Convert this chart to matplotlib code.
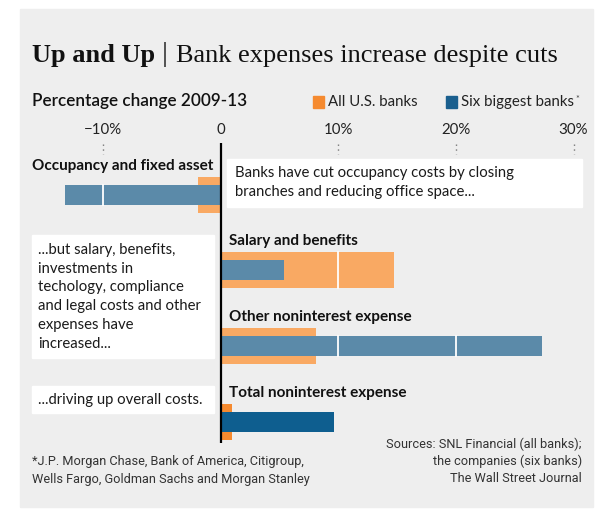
import matplotlib.pyplot as plt
from matplotlib.patches import Rectangle

categories = ['Occupancy and fixed asset', 'Salary and benefits',
              'Other noninterest expense', 'Total noninterest expense']
all_banks = [-1.9, 14.7, 8.1, 1.0]
six_biggest = [-13.2, 5.4, 27.3, 9.6]
ticks = [-10, 0, 10, 20, 30]
tick_labels = ['\u221210%', '0', '10%', '20%', '30%']

notes = [
    ['Banks have cut occupancy costs by closing',
     'branches and reducing office space...'],
    ['...but salary, benefits,', 'investments in', 'techology, compliance',
     'and legal costs and other', 'expenses have', 'increased...'],
    ['...driving up overall costs.'],
]

orange = ['#f9a963', '#f9a963', '#f9a963', '#f58a2f']
blue = ['#5b8aa9', '#5b8aa9', '#5b8aa9', '#0e5e8f']

W, H = 606, 517
BODY = ['Lato', 'DejaVu Sans']
NARROW = ['Roboto', 'DejaVu Sans']
SERIF = ['Liberation Serif', 'DejaVu Serif']

fig = plt.figure(figsize=(W / 100, H / 100), dpi=100)


def fx(p):
    return p / W


def fy(p):
    return 1 - p / H


def box(x0, y0, x1, y1, color, z=-1):
    fig.patches.append(Rectangle((fx(x0), fy(y1)), (x1 - x0) / W, (y1 - y0) / H,
                                 transform=fig.transFigure, color=color, zorder=z))


# grey panel
box(20, 9, 593, 507, '#eeeeee', z=-2)

# title
fig.text(fx(32), fy(62), 'Up and Up', family=SERIF, weight='bold', size=19,
         va='baseline', color='#111111')
fig.text(fx(161), fy(61), '|', family=['DejaVu Sans'], size=17, va='baseline',
         color='#555555')
fig.text(fx(176), fy(62), 'Bank expenses increase despite cuts', family=SERIF,
         size=19, va='baseline', color='#111111')

fig.text(fx(32), fy(106), 'Percentage change 2009-13', family=BODY, size=12.3,
         weight='semibold', va='baseline', color='#111111')

# legend
box(313, 96.5, 324, 107.5, '#f58a2f')
fig.text(fx(328), fy(106), 'All U.S. banks', family=BODY, size=10.8,
         va='baseline', color='#222222')
box(446, 96.5, 457, 107.5, '#1a5f8e')
fig.text(fx(461), fy(106), 'Six biggest banks', family=BODY, size=10.8,
         va='baseline', color='#222222')
fig.text(fx(575), fy(102), '*', family=BODY, size=6.5, va='baseline', color='#444444')

# annotation boxes
box(227, 159, 582, 207, 'white')
box(32, 235, 214, 358, 'white')
box(32, 386, 214, 413, 'white')
for xs, y0, lines in [(235, 173, notes[0]), (38, 250, notes[1]), (38, 400, notes[2])]:
    for i, line in enumerate(lines):
        fig.text(fx(xs), fy(y0 + i * 18.7), line, family=BODY, size=10.7,
                 va='center', color='#1a1a1a')

# bar area
x0px, step = 220.7, 11.76      # pixel of 0 and pixels per 1 %
c0, gap = 194.5, 75.8          # pixel of first bar centre and row spacing
top, bottom = 143, 443
ax = fig.add_axes([fx(20), fy(bottom), (593 - 20) / W, (bottom - top) / H])
ax.set_xlim((20 - x0px) / step, (593 - x0px) / step)
ymin, ymax = (top - c0) / gap, (bottom - c0) / gap
ax.set_ylim(ymax, ymin)
ax.axis('off')
ax.patch.set_alpha(0)

pos = list(range(len(categories)))
h_or, h_bl = 36 / gap, 20 / gap
ax.barh(pos, all_banks, height=h_or, color=orange, zorder=2)
ax.barh(pos, six_biggest, height=h_bl, color=blue, zorder=3)

# white separators at gridline positions inside each bar
for vals, hh, z in [(all_banks, h_or, 2.5), (six_biggest, h_bl, 3.5)]:
    for p, v in zip(pos, vals):
        for t in ticks:
            if t != 0 and t * v > 0 and abs(t) < abs(v):
                ax.plot([t, t], [p - hh / 2, p + hh / 2], color='white',
                        lw=1.3, zorder=z)

ax.axvline(0, color='black', lw=1.6, zorder=6)

for t, lab in zip(ticks, tick_labels):
    if t != 0:
        ax.plot([t, t], [ymin + 0.01, ymin + 11 / gap], color='#777777',
                lw=1.0, linestyle=(0, (1, 2.5)), zorder=1)
    fig.text(fx(x0px + t * step), fy(130), lab, family=BODY, size=10.8,
             ha='center', va='center', color='#222222')

for p, name in zip(pos, categories):
    if p == 0:
        ax.text(-7 / step, p - 29 / gap, name, family=BODY, weight='bold',
                size=11, ha='right', va='center', color='#111111', zorder=7)
    else:
        ax.text(8 / step, p - 29 / gap, name, family=BODY, weight='bold',
                size=11, ha='left', va='center', color='#111111', zorder=7)

# footnotes
fig.text(fx(32), fy(462), '*J.P. Morgan Chase, Bank of America, Citigroup,',
         family=NARROW, size=9.2, va='center', color='#333333')
fig.text(fx(32), fy(479), 'Wells Fargo, Goldman Sachs and Morgan Stanley',
         family=NARROW, size=9.2, va='center', color='#333333')
for i, line in enumerate(['Sources: SNL Financial (all banks);',
                          'the companies (six banks)',
                          'The Wall Street Journal']):
    fig.text(fx(582), fy(444 + i * 17), line, family=NARROW, size=9.2,
             ha='right', va='center', color='#333333')

fig.savefig('out.png', dpi=100, facecolor='white')
